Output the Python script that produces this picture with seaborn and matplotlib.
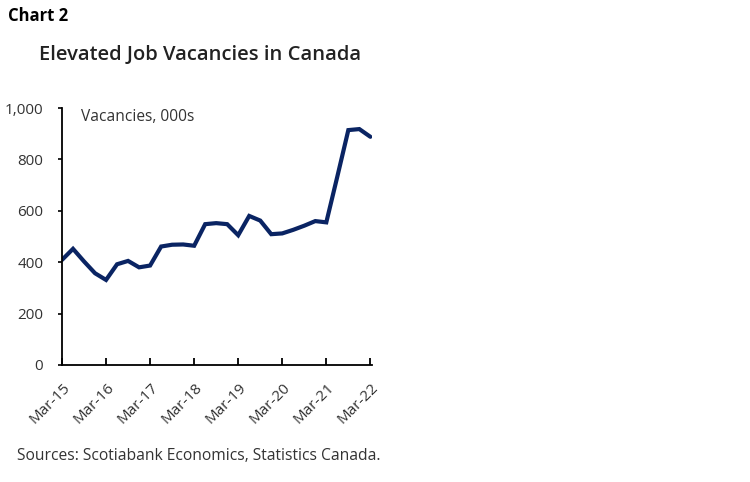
import matplotlib
matplotlib.use("Agg")
import matplotlib.pyplot as plt
import matplotlib.transforms as mtransforms
import seaborn as sns
import pandas as pd

# Datos trimestrales, Mar-15 a Mar-22 (miles de vacantes)
trimestres = pd.period_range("2015Q1", "2022Q1", freq="Q")
vacantes = [409, 452, 403, 357, 331, 392, 405, 380, 387, 461,
            468, 469, 464, 548, 552, 548, 505, 580, 562, 509,
            512, 526, 542, 560, 555, 733, 914, 918, 888]
etiquetas_x = ["Mar-15", "Mar-16", "Mar-17", "Mar-18",
               "Mar-19", "Mar-20", "Mar-21", "Mar-22"]
ticks_y = [0, 200, 400, 600, 800, 1000]

df = pd.DataFrame({"idx": range(len(vacantes)), "vacantes": vacantes})

sns.set_style("white")
plt.rcParams["font.family"] = ["Open Sans", "DejaVu Sans"]

fig = plt.figure(figsize=(7.5, 4.82), dpi=100)
ax = fig.add_axes([62 / 750, 1 - 365 / 482, 310 / 750, 257 / 482])

sns.lineplot(data=df, x="idx", y="vacantes", ax=ax, color="#0a2463",
             linewidth=3.0, solid_joinstyle="miter")

ax.set_xlim(0, len(vacantes) - 1 + 0.15)
ax.set_ylim(0, 1000)
ax.set_xticks(range(0, len(vacantes), 4))
ax.set_xticklabels(etiquetas_x, rotation=45, ha="right", va="center",
                   rotation_mode="anchor")
ax.set_yticks(ticks_y)
ax.set_yticklabels([f"{v:,}" for v in ticks_y])
ax.set_xlabel("")
ax.set_ylabel("")

for lado in ["top", "right"]:
    ax.spines[lado].set_visible(False)
for lado in ["left", "bottom"]:
    ax.spines[lado].set_color("black")
    ax.spines[lado].set_linewidth(1.3)

ax.tick_params(axis="x", bottom=True, direction="in", length=5, width=1.3,
               colors="black", labelcolor="#333333", labelsize=11, pad=14.5)
ax.tick_params(axis="y", left=True, direction="out", length=3, width=1.2,
               colors="black", labelcolor="#333333", labelsize=11, pad=10.5)

# mover las etiquetas del eje x un poco a la derecha
desplazamiento = mtransforms.ScaledTranslation(6 / 100, 0, fig.dpi_scale_trans)
for etiqueta in ax.get_xticklabels():
    etiqueta.set_transform(etiqueta.get_transform() + desplazamiento)

ax.text(0.06, 0.995, "Vacancies, 000s", transform=ax.transAxes, fontsize=11.2,
        color="#333333", va="top", ha="left")

fig.text(8 / 750, 1 - 16 / 482, "Chart 2", fontsize=12, fontweight="bold",
         color="black", va="center", ha="left")
fig.text(200 / 750, 1 - 55 / 482, "Elevated Job Vacancies in Canada",
         fontsize=14.5, fontweight="semibold", color="#222222", va="center", ha="center")
fig.text(17 / 750, 1 - 456 / 482, "Sources: Scotiabank Economics, Statistics Canada.",
         fontsize=11.25, color="#333333", va="center", ha="left")

fig.savefig("out.png", dpi=100)
